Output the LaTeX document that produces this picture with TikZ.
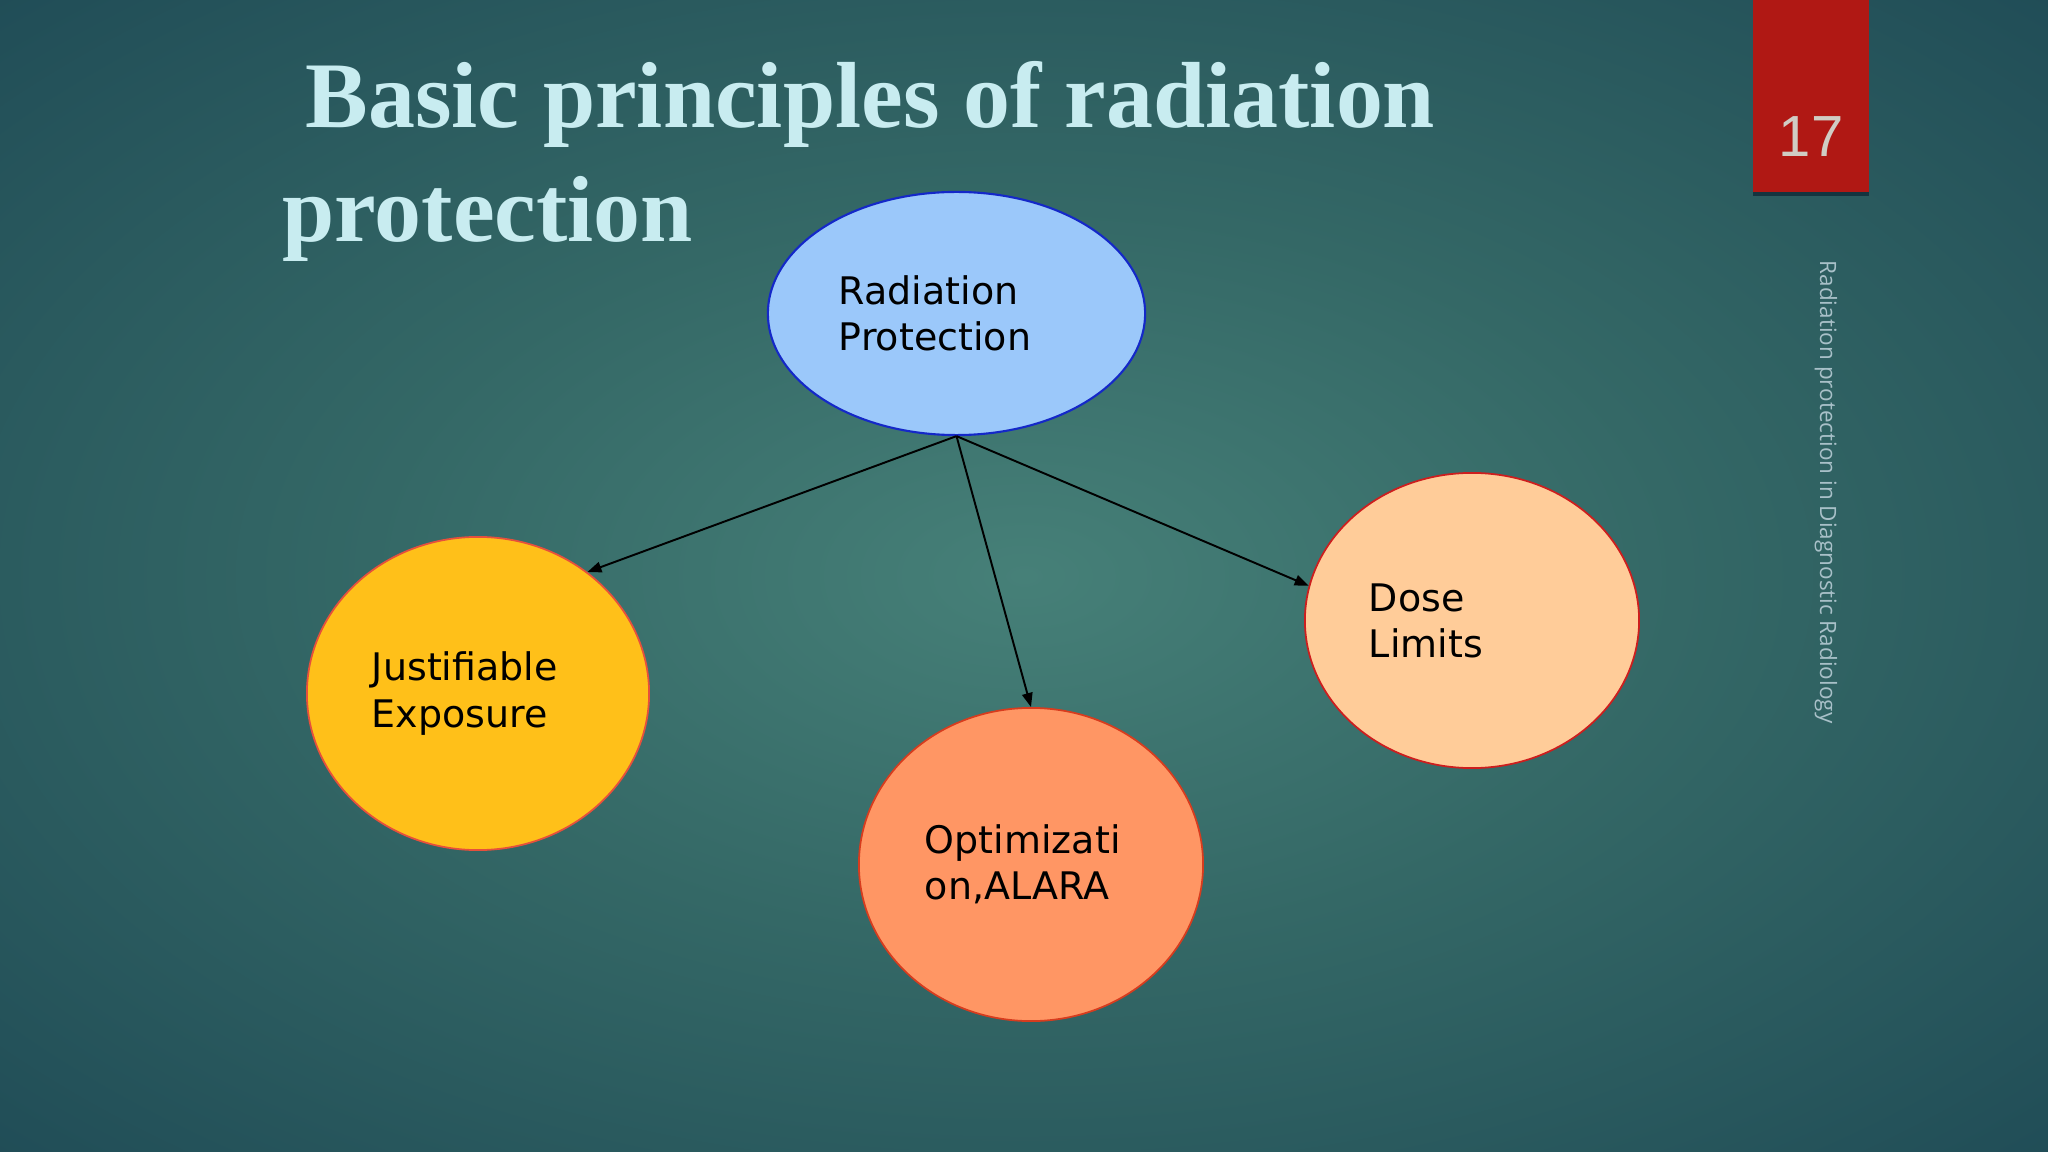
\documentclass[tikz,border=0pt]{standalone}
\usepackage{fontspec}
\usetikzlibrary{shapes.geometric,arrows.meta}
\newfontfamily\titlefont{Liberation Serif}
\newfontfamily\nodefont{DejaVu Sans}
\newfontfamily\numfont{Liberation Sans}
\newfontfamily\sidefont{Open Sans}
\definecolor{bgc}{RGB}{70,128,120}
\definecolor{bgm}{RGB}{52,104,102}
\definecolor{bgo}{RGB}{26,68,82}
\definecolor{bge}{RGB}{18,52,72}
\definecolor{titlecol}{RGB}{200,236,240}
\definecolor{boxred}{RGB}{176,24,20}
\definecolor{numcol}{RGB}{208,204,196}
\definecolor{sidecol}{RGB}{168,192,200}
\definecolor{rpfill}{RGB}{155,200,250}
\definecolor{rpdraw}{RGB}{20,40,200}
\definecolor{jefill}{RGB}{255,192,25}
\definecolor{jedraw}{RGB}{230,80,60}
\definecolor{opfill}{RGB}{255,150,100}
\definecolor{opdraw}{RGB}{215,60,30}
\definecolor{dlfill}{RGB}{255,204,153}
\definecolor{dldraw}{RGB}{205,30,30}
\pgfdeclareradialshading{bgshade}{\pgfpoint{0bp}{0bp}}{color(0bp)=(bgc); color(16bp)=(bgm); color(42bp)=(bgo); color(71bp)=(bge)}
\tikzset{
  bubble/.style={ellipse, inner sep=0pt, line width=0.5pt, align=flush left,
    font=\nodefont\fontsize{10.8pt}{13.1pt}\selectfont, text=black},
  arr/.style={line width=0.55pt, draw=black, -{Triangle[length=4pt,width=3pt]}},
  titletext/.style={font=\titlefont\bfseries\fontsize{26.7pt}{30pt}\selectfont, text=titlecol, inner sep=0pt}
}
\begin{document}
\begin{tikzpicture}[x=0.01cm,y=-0.01cm]
\useasboundingbox (0,0) rectangle (2048,1152);
\shade[shading=bgshade] (0,0) rectangle (2048,1152);
% page number box
\fill[bge!70!black, opacity=0.7] (1753,188) rectangle (1869,196);
\fill[boxred] (1753,0) rectangle (1869,192);
\node[font=\numfont\fontsize{16.5pt}{18pt}\selectfont, text=numcol, anchor=base, inner sep=0pt] (num) at (1811,157) {17};
% side text
\node[font=\sidefont\fontsize{6.4pt}{7pt}\selectfont, text=sidecol, rotate=-90, anchor=base west, inner sep=0pt] (side) at (1820,260) {Radiation protection in Diagnostic Radiology};
% title
\node[titletext, anchor=base west] (t1) at (305,128) {Basic principles of radiation};
\node[titletext, anchor=base west] (t2) at (282,242) {protection};
% bubbles
\node[bubble, fill=rpfill, draw=rpdraw, line width=0.6pt, minimum width=3.77cm, minimum height=2.43cm, text width=2.35cm] (rp) at (956.5,313.5) {Radiation\\Protection};
\node[bubble, fill=jefill, draw=jedraw, minimum width=3.42cm, minimum height=3.13cm, text width=2.12cm] (je) at (478,693.5) {Justifiable\\Exposure};
\node[bubble, fill=opfill, draw=opdraw, minimum width=3.44cm, minimum height=3.13cm, text width=2.12cm] (op) at (1031,864.5) {Optimizati\\on,ALARA};
\node[bubble, fill=dlfill, draw=dldraw, minimum width=3.34cm, minimum height=2.95cm, text width=2.06cm] (dl) at (1472,620.5) {Dose\\Limits};
% arrows
\draw[arr] (rp.south) -- (je.48);
\draw[arr] (rp.south) -- (op.north);
\draw[arr] (rp.south) -- (dl.168);
\end{tikzpicture}
\end{document}
